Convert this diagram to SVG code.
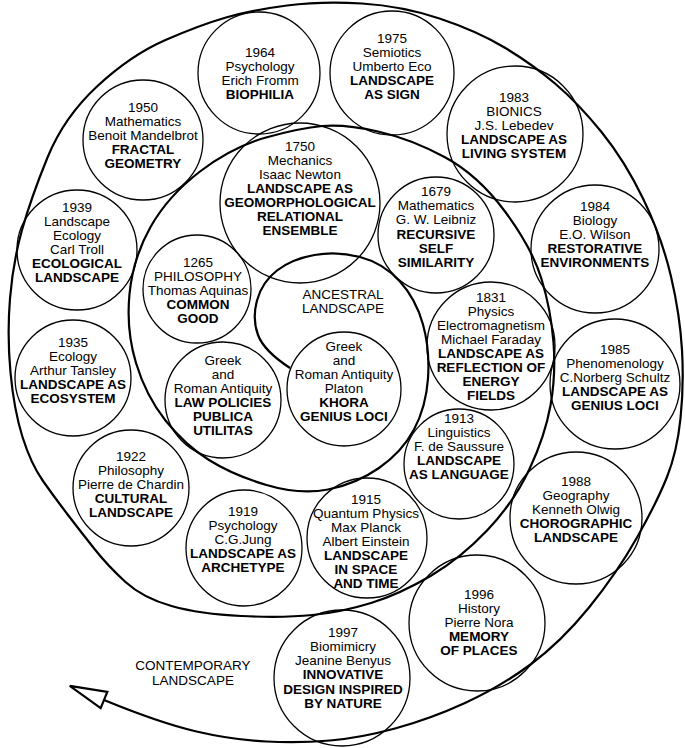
<svg xmlns="http://www.w3.org/2000/svg" width="685" height="748" viewBox="0 0 685 748">
<style>
  text { font-family: "Liberation Sans", Arial, sans-serif; font-size: 13.5px; text-anchor: middle; fill: #000; }
  .b { font-weight: bold; }
  .node circle { fill: none; stroke: #000; stroke-width: 1.3; }
  .spiral { fill: none; stroke: #000; stroke-width: 2.2; stroke-linejoin: round; }
</style>
<defs>
  <marker id="openArrow" markerUnits="userSpaceOnUse" markerWidth="44" markerHeight="26" viewBox="-3 -13 44 26" refX="0" refY="0" orient="auto" overflow="visible">
    <path d="M0,-8.75 L37,0 L0,8.75 Z" fill="#fff" stroke="#000" stroke-width="2.2" stroke-linejoin="miter"/>
  </marker>
</defs>
<rect width="685" height="748" fill="#fff"/>

<g id="connectors">
  <path class="spiral" marker-end="url(#openArrow)" d="M290,368 Q264,351 258,335 Q252,319 257,300.5 Q262,282 277,270.5 Q292,259 314.5,255 Q337,251 360,257 Q383,263 399.5,281 Q416,299 423,324.5 Q430,350 428,378.5 Q426,407 414,429.5 Q402,452 379,468 Q356,484 328,489.5 Q300,495 266.5,485 Q233,475 209,460 Q185,445 165.5,420.5 Q146,396 136,363 Q126,330 129.5,294 Q133,258 150.5,227 Q168,196 200,171.5 Q232,147 266,137.5 Q300,128 322.5,126 Q345,124 378,131.5 Q411,139 444.5,157 Q478,175 505,211.5 Q532,248 541.5,279 Q551,310 553.5,342.5 Q556,375 550.5,405.5 Q545,436 529.5,469 Q514,502 487.5,530 Q461,558 430.5,576 Q400,594 371,603 Q342,612 312.5,615 Q283,618 241.5,616 Q200,614 171.5,606 Q143,598 125.5,582 Q108,566 94.5,549 Q81,532 68,515 Q55,498 43,481 Q31,464 22.5,437 Q14,410 10.5,372.5 Q7,335 10,298.5 Q13,262 22,230 Q31,198 47.5,157.5 Q64,117 97.5,86 Q131,55 165.5,40 Q200,25 226,17.5 Q252,10 287,5.5 Q322,1 362,3.5 Q402,6 439.5,18.5 Q477,31 504.5,47.5 Q532,64 555,83.5 Q578,103 601.5,132 Q625,161 643.5,199.5 Q662,238 671,276.5 Q680,315 682,350 Q684,385 680.5,418.5 Q677,452 667,477 Q657,502 637,537.5 Q617,573 589,607.5 Q561,642 530.5,664.5 Q500,687 465,703 Q430,719 395,728.5 Q360,738 330,740.5 Q300,743 266.5,741.5 Q233,740 196.5,731.5 Q160,723 104,700"/>
</g>

<g id="label-ancestral">
  <text x="343" y="299">ANCESTRAL</text>
  <text x="343" y="313">LANDSCAPE</text>
</g>
<g id="label-contemporary">
  <text x="193" y="670">CONTEMPORARY</text>
  <text x="193" y="685">LANDSCAPE</text>
</g>

<g id="n1964" class="node">
  <circle cx="259" cy="73" r="61"/>
  <text x="260" y="57">1964</text>
  <text x="260" y="71">Psychology</text>
  <text x="260" y="85">Erich Fromm</text>
  <text x="260" y="99" class="b">BIOPHILIA</text>
</g>
<g id="n1975" class="node">
  <circle cx="392" cy="73" r="62"/>
  <text x="392" y="43">1975</text>
  <text x="392" y="57">Semiotics</text>
  <text x="392" y="71">Umberto Eco</text>
  <text x="392" y="85" class="b">LANDSCAPE</text>
  <text x="392" y="99" class="b">AS SIGN</text>
</g>
<g id="n1983" class="node">
  <circle cx="515" cy="134" r="68"/>
  <text x="514" y="102">1983</text>
  <text x="514" y="116">BIONICS</text>
  <text x="514" y="130">J.S. Lebedev</text>
  <text x="514" y="144" class="b">LANDSCAPE AS</text>
  <text x="514" y="158" class="b">LIVING SYSTEM</text>
</g>
<g id="n1950" class="node">
  <circle cx="143" cy="140" r="60"/>
  <text x="143" y="112">1950</text>
  <text x="143" y="126">Mathematics</text>
  <text x="143" y="140">Benoit Mandelbrot</text>
  <text x="143" y="154" class="b">FRACTAL</text>
  <text x="143" y="168" class="b">GEOMETRY</text>
</g>
<g id="n1750" class="node">
  <circle cx="300" cy="203" r="80"/>
  <text x="300" y="151">1750</text>
  <text x="300" y="165">Mechanics</text>
  <text x="300" y="179">Isaac Newton</text>
  <text x="300" y="193" class="b">LANDSCAPE AS</text>
  <text x="300" y="207" class="b">GEOMORPHOLOGICAL</text>
  <text x="300" y="221" class="b">RELATIONAL</text>
  <text x="300" y="235" class="b">ENSEMBLE</text>
</g>
<g id="n1679" class="node">
  <circle cx="436" cy="235" r="58"/>
  <text x="436" y="196">1679</text>
  <text x="436" y="210">Mathematics</text>
  <text x="436" y="224">G. W. Leibniz</text>
  <text x="436" y="239" class="b">RECURSIVE</text>
  <text x="436" y="253" class="b">SELF</text>
  <text x="436" y="267" class="b">SIMILARITY</text>
</g>
<g id="n1265" class="node">
  <circle cx="197" cy="289" r="54"/>
  <text x="198" y="267">1265</text>
  <text x="198" y="281">PHILOSOPHY</text>
  <text x="198" y="295">Thomas Aquinas</text>
  <text x="198" y="309" class="b">COMMON</text>
  <text x="198" y="323" class="b">GOOD</text>
</g>
<g id="nGreekLaw" class="node">
  <circle cx="223" cy="400" r="58"/>
  <text x="223" y="365">Greek</text>
  <text x="223" y="379">and</text>
  <text x="223" y="393">Roman Antiquity</text>
  <text x="223" y="407" class="b">LAW POLICIES</text>
  <text x="223" y="421" class="b">PUBLICA</text>
  <text x="223" y="435" class="b">UTILITAS</text>
</g>
<g id="nKhora" class="node">
  <circle cx="344" cy="389" r="57"/>
  <text x="344" y="351">Greek</text>
  <text x="344" y="365">and</text>
  <text x="344" y="379">Roman Antiquity</text>
  <text x="344" y="393">Platon</text>
  <text x="344" y="407" class="b">KHORA</text>
  <text x="344" y="421" class="b">GENIUS LOCI</text>
</g>
<g id="n1831" class="node">
  <circle cx="491" cy="346" r="64"/>
  <text x="491" y="302">1831</text>
  <text x="491" y="316">Physics</text>
  <text x="491" y="330">Electromagnetism</text>
  <text x="491" y="344">Michael Faraday</text>
  <text x="491" y="358" class="b">LANDSCAPE AS</text>
  <text x="491" y="372" class="b">REFLECTION OF</text>
  <text x="491" y="386" class="b">ENERGY</text>
  <text x="491" y="400" class="b">FIELDS</text>
</g>
<g id="n1913" class="node">
  <circle cx="459" cy="464" r="55"/>
  <text x="459" y="423">1913</text>
  <text x="459" y="437">Linguistics</text>
  <text x="459" y="451">F. de Saussure</text>
  <text x="459" y="465" class="b">LANDSCAPE</text>
  <text x="459" y="479" class="b">AS LANGUAGE</text>
</g>
<g id="n1984" class="node">
  <circle cx="595" cy="249" r="64"/>
  <text x="595" y="211">1984</text>
  <text x="595" y="225">Biology</text>
  <text x="595" y="239">E.O. Wilson</text>
  <text x="595" y="253" class="b">RESTORATIVE</text>
  <text x="595" y="267" class="b">ENVIRONMENTS</text>
</g>
<g id="n1985" class="node">
  <circle cx="615" cy="384" r="65"/>
  <text x="615" y="354">1985</text>
  <text x="615" y="368">Phenomenology</text>
  <text x="615" y="382">C.Norberg Schultz</text>
  <text x="615" y="396" class="b">LANDSCAPE AS</text>
  <text x="615" y="410" class="b">GENIUS LOCI</text>
</g>
<g id="n1988" class="node">
  <circle cx="576" cy="518" r="66"/>
  <text x="576" y="486">1988</text>
  <text x="576" y="500">Geography</text>
  <text x="576" y="514">Kenneth Olwig</text>
  <text x="576" y="528" class="b">CHOROGRAPHIC</text>
  <text x="576" y="542" class="b">LANDSCAPE</text>
</g>
<g id="n1996" class="node">
  <circle cx="477" cy="623" r="68"/>
  <text x="479" y="599">1996</text>
  <text x="479" y="613">History</text>
  <text x="479" y="627">Pierre Nora</text>
  <text x="479" y="641" class="b">MEMORY</text>
  <text x="479" y="655" class="b">OF PLACES</text>
</g>
<g id="n1915" class="node">
  <circle cx="367" cy="538" r="60"/>
  <text x="366" y="504">1915</text>
  <text x="366" y="518">Quantum Physics</text>
  <text x="366" y="532">Max Planck</text>
  <text x="366" y="546">Albert Einstein</text>
  <text x="366" y="560" class="b">LANDSCAPE</text>
  <text x="366" y="574" class="b">IN SPACE</text>
  <text x="366" y="588" class="b">AND TIME</text>
</g>
<g id="n1919" class="node">
  <circle cx="244" cy="548" r="58"/>
  <text x="243" y="516">1919</text>
  <text x="243" y="530">Psychology</text>
  <text x="243" y="544">C.G.Jung</text>
  <text x="243" y="558" class="b">LANDSCAPE AS</text>
  <text x="243" y="572" class="b">ARCHETYPE</text>
</g>
<g id="n1922" class="node">
  <circle cx="131" cy="488" r="58"/>
  <text x="131" y="461">1922</text>
  <text x="131" y="475">Philosophy</text>
  <text x="131" y="489">Pierre de Chardin</text>
  <text x="131" y="503" class="b">CULTURAL</text>
  <text x="131" y="517" class="b">LANDSCAPE</text>
</g>
<g id="n1935" class="node">
  <circle cx="73" cy="378" r="58"/>
  <text x="73" y="347">1935</text>
  <text x="73" y="361">Ecology</text>
  <text x="73" y="375">Arthur Tansley</text>
  <text x="73" y="389" class="b">LANDSCAPE AS</text>
  <text x="73" y="403" class="b">ECOSYSTEM</text>
</g>
<g id="n1939" class="node">
  <circle cx="77" cy="250" r="60"/>
  <text x="77" y="212">1939</text>
  <text x="77" y="226">Landscape</text>
  <text x="77" y="240">Ecology</text>
  <text x="77" y="254">Carl Troll</text>
  <text x="77" y="268" class="b">ECOLOGICAL</text>
  <text x="77" y="282" class="b">LANDSCAPE</text>
</g>
<g id="n1997" class="node">
  <circle cx="342" cy="678" r="68"/>
  <text x="343" y="637">1997</text>
  <text x="343" y="651">Biomimicry</text>
  <text x="343" y="665">Jeanine Benyus</text>
  <text x="343" y="679" class="b">INNOVATIVE</text>
  <text x="343" y="694" class="b">DESIGN INSPIRED</text>
  <text x="343" y="708" class="b">BY NATURE</text>
</g>
</svg>
